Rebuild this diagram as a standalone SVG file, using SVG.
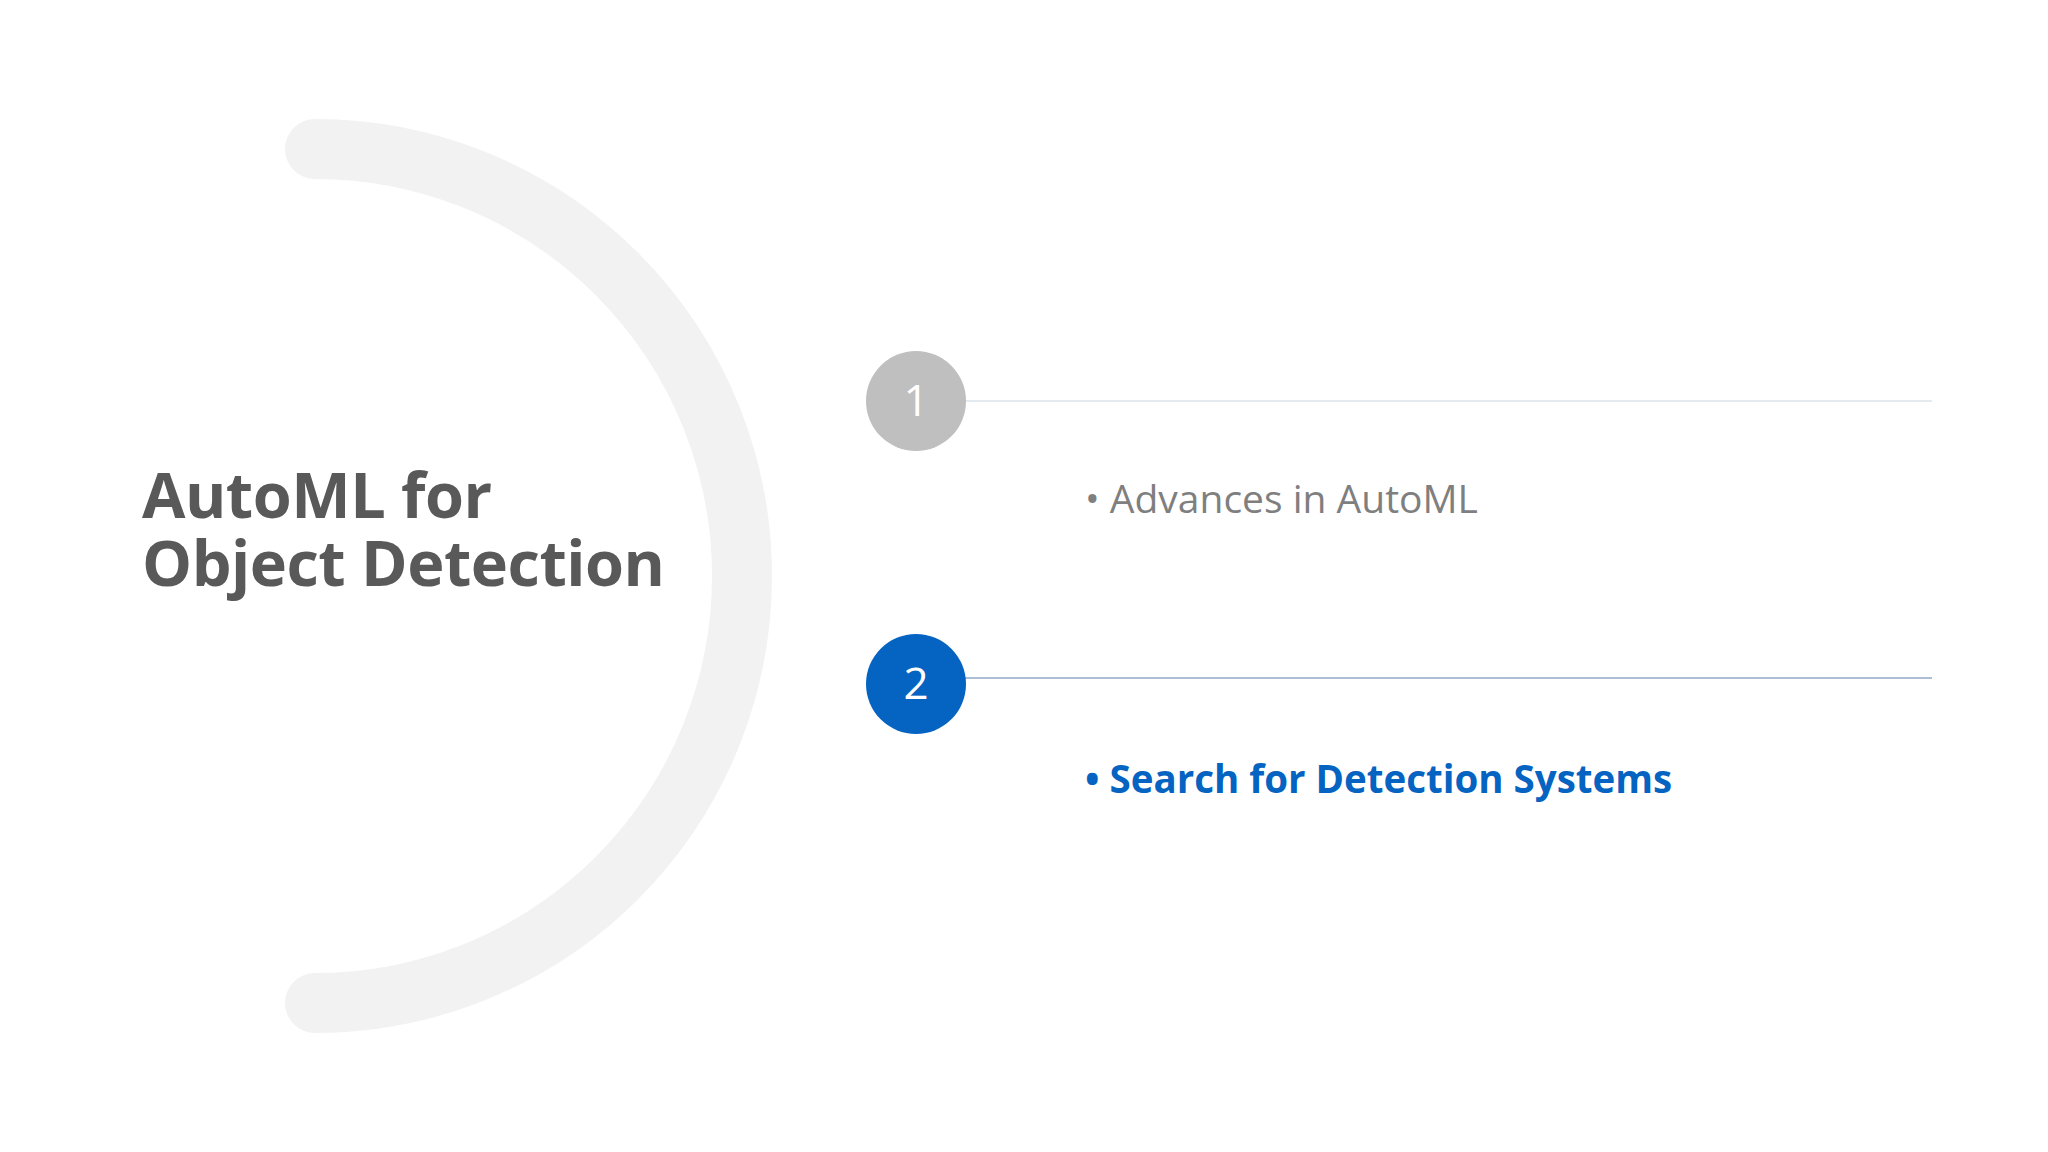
<svg xmlns="http://www.w3.org/2000/svg" width="2048" height="1152" viewBox="0 0 2048 1152">
<style>
.t{font-family:"Segoe UI","Open Sans","Noto Sans",sans-serif}
.ln{stroke-width:1.5}
</style>
<rect width="2048" height="1152" fill="#ffffff"/>
<g id="arc"><path d="M315 149 A427 427 0 0 1 315 1003" fill="none" stroke="#f2f2f2" stroke-width="60" stroke-linecap="round"/></g>
<g id="title"><text class="t" x="142" y="518" font-size="63" font-weight="bold" fill="#595959" letter-spacing="-0.5">AutoML for</text>
<text class="t" x="142" y="586" font-size="63" font-weight="bold" fill="#595959" letter-spacing="-0.5">Object Detection</text></g>
<g id="connectors">
<line class="ln" x1="965" y1="401" x2="1932" y2="401" stroke="#dde3ea"/>
<line class="ln" x1="965" y1="678" x2="1932" y2="678" stroke="#8fa9c8"/>
</g>
<g id="node1"><circle cx="916" cy="401" r="50" fill="#bfbfbf"/>
<text class="t" x="916" y="416" font-size="44" fill="#ffffff" text-anchor="middle">1</text></g>
<g id="item1"><text class="t" x="1085" y="513" font-size="39" fill="#7f7f7f">• Advances in AutoML</text></g>
<g id="node2"><circle cx="916" cy="684" r="50" fill="#0563c1"/>
<text class="t" x="916" y="699" font-size="44" fill="#ffffff" text-anchor="middle">2</text></g>
<g id="item2"><text class="t" x="1085" y="793" font-size="38.5" font-weight="bold" fill="#0563c1">• Search for Detection Systems</text></g>
</svg>
